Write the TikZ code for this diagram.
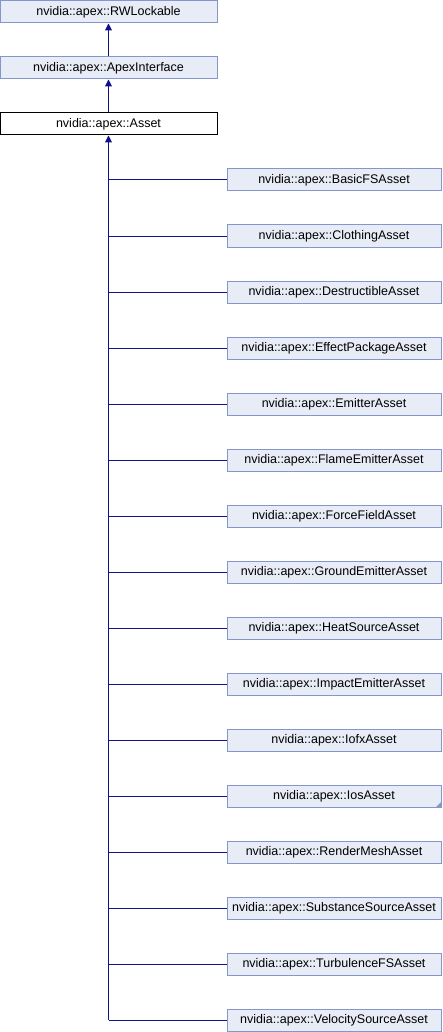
\documentclass[tikz,border=0pt]{standalone}
\usepackage{fontspec}
\setmainfont{Liberation Sans}
\usetikzlibrary{arrows.meta}
\definecolor{boxfill}{HTML}{E8ECF6}
\definecolor{boxedge}{HTML}{8397CB}
\definecolor{linkblue}{HTML}{10108A}

\begin{document}
\begin{tikzpicture}[x=1pt,y=-1pt,
	classbox/.style={draw=boxedge,fill=boxfill,line width=1pt,minimum width=214pt,minimum height=22pt,inner sep=0pt,font=\fontsize{12.5}{14}\selectfont},
	mainbox/.style={classbox,draw=black,fill=white,minimum width=217pt},
	link/.style={draw=linkblue,line width=1pt},
	inherit/.style={link,-{Triangle[length=7pt,width=7pt]}}]
	\useasboundingbox (0,0) rectangle (442,1032);
	
	\node[classbox,minimum width=217pt] (rw) at (108.5,12) {nvidia::apex::RWLockable};
	\node[classbox,minimum width=217pt] (apexif) at (108.5,68) {nvidia::apex::ApexInterface};
	\node[mainbox] (asset) at (108.5,124) {nvidia::apex::Asset};
	
	\draw[inherit] (apexif) -- (rw);
	\draw[inherit] (asset) -- (apexif);
	
	\foreach \name [count=\i] in {BasicFSAsset,ClothingAsset,DestructibleAsset,EffectPackageAsset,EmitterAsset,FlameEmitterAsset,ForceFieldAsset,GroundEmitterAsset,HeatSourceAsset,ImpactEmitterAsset,IofxAsset,IosAsset,RenderMeshAsset,SubstanceSourceAsset,TurbulenceFSAsset,VelocitySourceAsset}{
		\node[classbox] (c\i) at (334,124+56*\i) {nvidia::apex::\name};}
	
	% small corner mark on the incomplete box
	\fill[boxedge] (c12.south east) -- ++(0,-6) -- ++(-6,6) -- cycle;
	
	\coordinate (trunk) at (108.5,1020);
	\draw[inherit] (trunk) -- (asset);
	\foreach \i in {1,...,16}{
		\draw[link] (c\i.west) -- (c\i.west -| trunk);}
\end{tikzpicture}
\end{document}
